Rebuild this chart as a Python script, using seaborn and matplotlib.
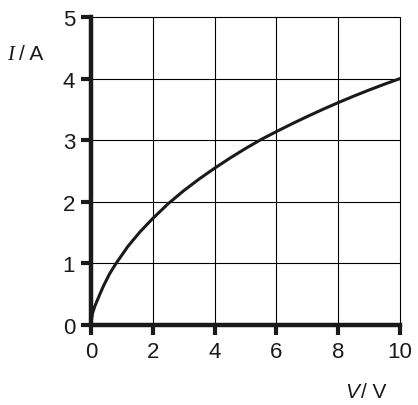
import seaborn as sns
import matplotlib.pyplot as plt
import pandas as pd

# values
voltage = [0, 0.02, 0.05, 0.12, 0.27, 0.4, 0.6, 0.81, 1.2, 1.6, 2, 2.5, 3, 3.5, 4,
           4.5, 5, 5.5, 6, 6.5, 7, 7.5, 8, 8.5, 9, 9.5, 10]
current = [0, 0.1, 0.19, 0.3, 0.48, 0.63, 0.83, 1.0, 1.28, 1.52, 1.73, 1.97, 2.18, 2.37, 2.545,
           2.71, 2.865, 3.01, 3.14, 3.265, 3.385, 3.5, 3.61, 3.715, 3.815, 3.91, 4.0]
x_ticks = [0, 2, 4, 6, 8, 10]
y_ticks = [0, 1, 2, 3, 4, 5]

df = pd.DataFrame({"V": voltage, "I": current})

sns.set_theme(style="white")
plt.rcParams['font.family'] = ['Liberation Sans', 'DejaVu Sans']

fig = plt.figure(figsize=(4.18, 4.06), dpi=100)
ax = fig.add_axes([91 / 418, 80 / 406, 309 / 418, 308 / 406])

ax.set_xlim(0, 10)
ax.set_ylim(0, 5)
ax.set_xticks(x_ticks)
ax.set_yticks(y_ticks)
ax.grid(True, color="black", linewidth=0.8)
for line in ax.get_xgridlines() + ax.get_ygridlines():
    line.set_clip_on(False)

sns.lineplot(data=df, x="V", y="I", ax=ax, color="#1a1a1a", linewidth=2.2, zorder=3)

# spines and ticks
for side in ["top", "right"]:
    ax.spines[side].set_visible(False)
for side in ["left", "bottom"]:
    ax.spines[side].set_linewidth(3.2)
    ax.spines[side].set_color("#1a1a1a")
    ax.spines[side].set_zorder(4)
ax.tick_params(axis="both", direction="out", length=7.5, width=3, color="#1a1a1a",
               labelsize=16, labelcolor="#1a1a1a", left=True, bottom=True)
ax.tick_params(axis="y", pad=4)
ax.tick_params(axis="x", pad=4)

ax.set_xlabel("")
ax.set_ylabel("")

# axis labels
fig.text(7 / 418, 1 - 60 / 406, "I", fontsize=15, style="italic",
         family="Liberation Serif", color="#1a1a1a", va="baseline")
fig.text(19 / 418, 1 - 60 / 406, "/ A", fontsize=15, color="#1a1a1a", va="baseline")
fig.text(345 / 418, 1 - 398 / 406, "V", fontsize=15, style="italic",
         color="#1a1a1a", va="baseline")
fig.text(361 / 418, 1 - 398 / 406, "/ V", fontsize=15, color="#1a1a1a", va="baseline")

fig.savefig("out.png", dpi=100)
